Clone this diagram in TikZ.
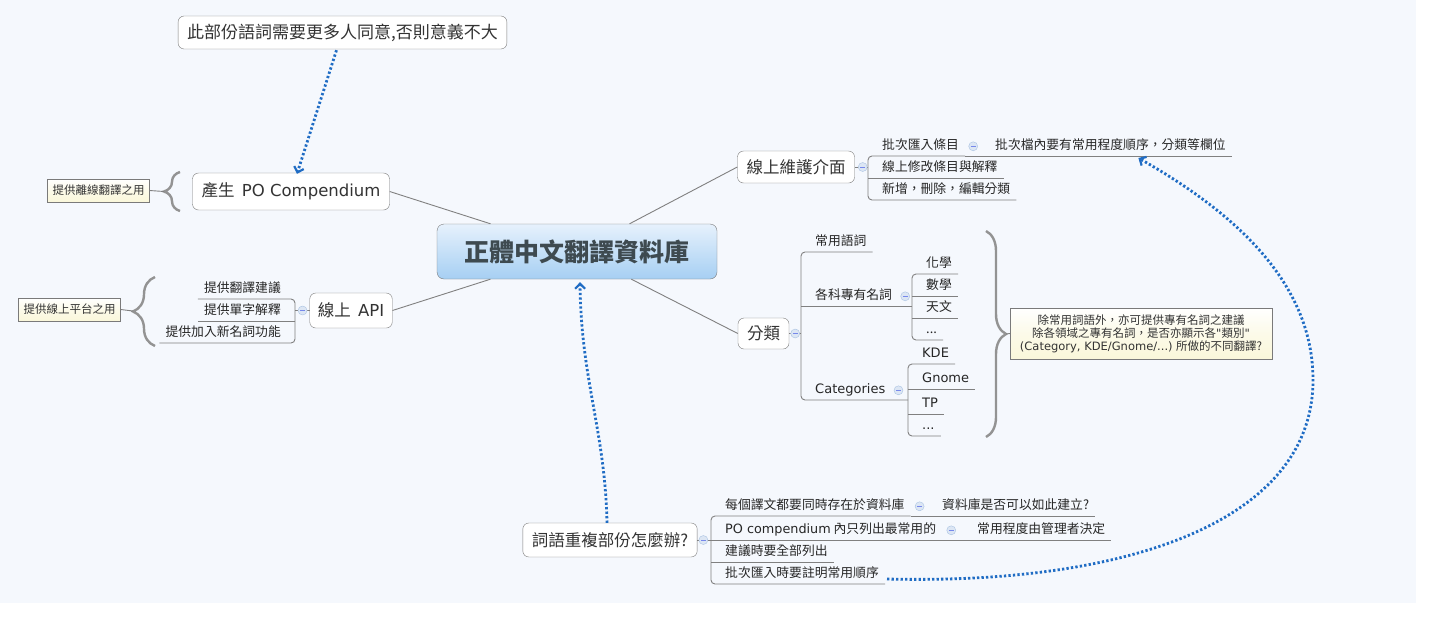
\documentclass[tikz,border=0pt]{standalone}
\usepackage{fontspec}
\setmainfont{DejaVu Sans}
\newfontfamily\cjk{Noto Sans CJK TC}
\newfontfamily\latin{DejaVu Sans}
\usetikzlibrary{arrows.meta,positioning,calc,decorations.pathreplacing}
\definecolor{bgpale}{HTML}{F5F8FD}
\definecolor{boxline}{HTML}{7A7A7A}
\definecolor{linkgray}{HTML}{808080}
\definecolor{notefill}{HTML}{FAF7DA}
\definecolor{dotblue}{HTML}{1F6CC4}
\definecolor{rootTop}{HTML}{E6F1FC}
\definecolor{rootBot}{HTML}{A6CFF3}
\definecolor{roottext}{HTML}{3E4A50}
\definecolor{foldfill}{HTML}{DCE6F4}
\definecolor{foldline}{HTML}{A9C2E2}
\definecolor{inktext}{HTML}{333333}

\begin{document}
\begin{tikzpicture}[x=1pt,y=-1pt,
  topic/.style={draw=boxline,fill=white,rounded corners=6pt,inner xsep=9pt,
                minimum height=33pt,text=inktext,font=\cjk\fontsize{16.5}{20}\selectfont},
  rootbox/.style={draw=boxline,rounded corners=7pt,top color=rootTop,bottom color=rootBot,
                  minimum width=280pt,minimum height=55pt,text=roottext,
                  font=\cjk\bfseries\fontsize{25}{30}\selectfont},
  note/.style={draw=boxline,top color=white,bottom color=notefill,middle color=notefill!60,
               inner xsep=5pt,inner ysep=3pt,minimum height=23pt,
               text=inktext,align=center,font=\cjk\fontsize{11.5}{13}\selectfont},
  sub/.style={anchor=south west,inner xsep=6pt,inner ysep=3.5pt,text height=9.5pt,
              text depth=2.5pt,text=black!85,font=\cjk\fontsize{12.8}{15}\selectfont},
  subl/.style={sub,anchor=south east},
  en/.style={font=\latin\fontsize{13}{15}\selectfont},
  tree/.style={draw=linkgray,line width=0.9pt},
  link/.style={draw=linkgray,line width=0.9pt},
  curly/.style={draw=gray!85,line width=2.4pt,decorate,
                decoration={brace,amplitude=#1,aspect=0.5}},
  fold/.style={circle,draw=foldline,fill=foldfill,inner sep=0pt,minimum size=9pt,
               path picture={\draw[foldline!70!blue,line width=0.8pt]
                 ($(path picture bounding box.west)+(2.2,0)$) --
                 ($(path picture bounding box.east)+(-2.2,0)$);}},
  dotarrow/.style={draw=dotblue,line width=2.8pt,dash pattern=on 2.3pt off 2.2pt,
                   -{Straight Barb[length=5pt,width=10pt,line width=2.2pt]}}
]
\useasboundingbox (0,0) rectangle (1431,619);
\fill[white] (0,0) rectangle (1431,619);
\fill[bgpale] (0,0) rectangle (1416,603);

\node[rootbox] (root) at (577,251.5) {正體中文翻譯資料庫};
\node[topic,font=\cjk\fontsize{17}{20}\selectfont] (callout) at (342.5,32.5) {此部份語詞需要更多人同意,否則意義不大};
\node[topic,minimum height=37pt] (po) at (291,191.5) {產生\ \ {\latin PO Compendium}};
\node[topic,minimum height=35pt,inner xsep=8pt] (api) at (351,310.5) {線上\ \ {\latin API}};
\node[topic,minimum height=32pt] (maint) at (796,167) {線上維護介面};
\node[topic,minimum height=31pt] (cat) at (763.5,333.5) {分類};
\node[topic,minimum height=34pt] (dup) at (610,540) {詞語重複部份怎麼辦?};

\node[note] (offline) at (98.5,190.5) {提供離線翻譯之用};
\node[note] (online) at (69.5,309.5) {提供線上平台之用};
\node[note,minimum width=262pt,minimum height=51pt] (catnote) at (1141,333.5)
  {除常用詞語外，亦可提供專有名詞之建議\\
   除各領域之專有名詞，是否亦顯示各{\latin "}類別{\latin "}\\
   {\latin (Category, KDE/Gnome/...)} 所做的不同翻譯?};

\draw[link] (root) -- (po.east);
\draw[link] (root) -- (api.east);
\draw[link] (root) -- (maint.west);
\draw[link] (root) -- (cat.west);

% 線上維護介面
\coordinate (mspine) at (868,0);
\node[sub] (m1) at (876,156) {批次匯入條目};
\node[sub] (m2) at (876,178) {線上修改條目與解釋};
\node[sub] (m3) at (876,200) {新增，刪除，編輯分類};
\node[sub] (m1a) at (989,156) {批次檔內要有常用程度順序，分類等欄位};
\draw[tree] (maint.east) -- (mspine |- maint.east);
\draw[tree,rounded corners=4pt] (m1.south east) -- (mspine |- m1.south)
  -- (mspine |- m3.south) -- (m3.south east);
\draw[tree] (mspine |- m2.south) -- (m2.south east);
\draw[tree] (m1.south east) -- (m1a.south east);
\node[fold] (maintf) at ($(maint.east)+(8,0)$) {};
\node[fold] (m1f) at ($(m1.east)+(8,0)$) {};

% 分類
\coordinate (cspine) at (801,0);
\coordinate (kspine) at (912,0);
\coordinate (gspine) at (908,0);
\node[sub] (k1) at (809,252) {常用語詞};
\node[sub] (k2) at (809,306) {各科專有名詞};
\node[sub,en] (k3) at (809,400) {Categories};
\node[sub] (k21) at (920,274) {化學};
\node[sub] (k22) at (920,296) {數學};
\node[sub] (k23) at (920,318) {天文};
\node[sub] (k24) at (920,340) {...};
\node[sub,en] (k31) at (916,364) {KDE};
\node[sub,en] (k32) at (916,389) {Gnome};
\node[sub,en] (k33) at (916,414) {TP};
\node[sub,en] (k34) at (916,436) {...};
\draw[tree] (cat.east) -- (cspine |- cat.east);
\draw[tree,rounded corners=4pt] (k1.south east) -- (cspine |- k1.south)
  -- (cspine |- k3.south) -- (gspine |- k3.south);
\draw[tree] (cspine |- k2.south) -- (kspine |- k2.south);
\draw[tree,rounded corners=4pt] (k21.south east) -- (kspine |- k21.south)
  -- (kspine |- k24.south) -- (k24.south east);
\draw[tree] (kspine |- k22.south) -- (k22.south east);
\draw[tree] (kspine |- k23.south) -- (k23.south east);
\draw[tree,rounded corners=4pt] (k31.south east) -- (gspine |- k31.south)
  -- (gspine |- k34.south) -- (k34.south east);
\draw[tree] (gspine |- k32.south) -- (k32.south east);
\draw[tree] (gspine |- k33.south) -- (k33.south east);
\node[fold] (catf) at ($(cat.east)+(6,0)$) {};
\node[fold] (k2f) at ($(k2.east)+(7,0)$) {};
\node[fold] (k3f) at ($(k3.east)+(7,0)$) {};

% 線上 API
\coordinate (aspine) at (295,0);
\node[subl] (a1) at (287,299) {提供翻譯建議};
\node[subl] (a2) at (287,321) {提供單字解釋};
\node[subl] (a3) at (287,343) {提供加入新名詞功能};
\draw[tree] (api.west) -- (aspine |- api.west);
\draw[tree,rounded corners=4pt] (a1.south west) -- (aspine |- a1.south)
  -- (aspine |- a3.south) -- (a3.south west);
\draw[tree] (aspine |- a2.south) -- (a2.south west);
\node[fold] (apif) at ($(api.west)+(-7,0)$) {};

% 詞語重複部份怎麼辦?
\coordinate (dspine) at (711,0);
\node[sub] (d1) at (719,516) {每個譯文都要同時存在於資料庫};
\node[sub] (d2) at (719,540) {{\latin PO compendium} 內只列出最常用的};
\node[sub] (d3) at (719,562) {建議時要全部列出};
\node[sub] (d4) at (719,584) {批次匯入時要註明常用順序};
\node[sub] (d1a) at (936,516) {資料庫是否可以如此建立?};
\node[sub] (d2a) at (971,540) {常用程度由管理者決定};
\draw[tree] (dup.east) -- (dspine |- dup.east);
\draw[tree,rounded corners=4pt] (d1.south east) -- (dspine |- d1.south)
  -- (dspine |- d4.south) -- (d4.south east);
\draw[tree] (dspine |- d2.south) -- (d2.south east);
\draw[tree] (dspine |- d3.south) -- (d3.south east);
\draw[tree] (d1.south east) -- (d1a.south east);
\draw[tree] (d2.south east) -- (d2a.south east);
\node[fold] (dupf) at ($(dup.east)+(6,0)$) {};
\node[fold] (d1f) at ($(d1.east)+(9,0)$) {};
\node[fold] (d2f) at ($(d2.east)+(9,0)$) {};

% braces and notes
\coordinate (pobrace) at (164,191.5);
\coordinate (apibrace) at (133,311);
\coordinate (catbrace) at (1006,334);
\draw[curly=16pt] (180,211) -- (180,172);
\draw[curly=22pt] (155,346) -- (155,277);
\draw[curly=20pt] (986,231) -- (986,437);
\draw[link] (offline.east) -- (pobrace);
\draw[link] (online.east) -- (apibrace);
\draw[link] (catbrace) -- (catnote.west);

% dotted relations
\draw[dotarrow] ($(callout.south)+(-6,1)$) -- ($(po.north)+(6,1)$);
\draw[dotarrow] ($(dup.north)+(-3,0)$) .. controls (605,430) and (581,380) .. ($(root.south)+(3,3)$);
\draw[dotarrow] ($(d4.south east)+(2,-5)$) .. controls (1130,585) and (1313,520) .. (1313,380)
  .. controls (1313,280) and (1230,210) .. ($(m1a.south)+(28,2)$);
\end{tikzpicture}
\end{document}
